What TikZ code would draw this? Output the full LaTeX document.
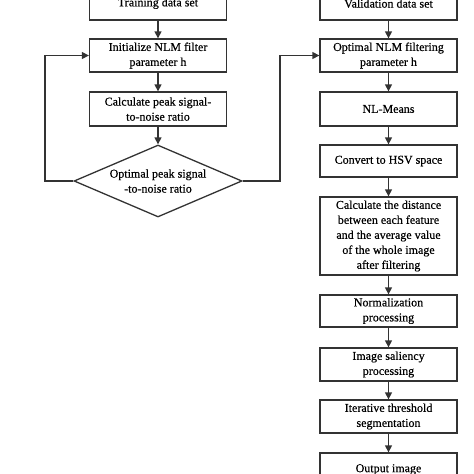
\documentclass[tikz,border=0pt]{standalone}
\usepackage{fontspec}
\setmainfont[FakeBold=0.4]{Liberation Serif}
\usetikzlibrary{shapes.geometric,arrows.meta}
\begin{document}
\begin{tikzpicture}[x=1pt,y=-1pt,
  ln/.style={draw=black!80,line width=1.3pt},
  arr/.style={ln,-{Triangle[length=7pt,width=7pt]}},
  box/.style={ln,rectangle,minimum width=137pt,inner sep=2pt,align=center,
    font=\fontsize{12}{15}\selectfont},
  dec/.style={ln,diamond,aspect=2.33,minimum width=168pt,minimum height=72pt,inner sep=0pt,
    align=center,font=\fontsize{12}{15}\selectfont}]
\useasboundingbox (0,0) rectangle (474,474);
\clip (0,0) rectangle (474,474);
% left column
\node[box,minimum height=33pt] (l1) at (158,3.5) {Training data set};
\node[box,minimum height=33pt] (l2) at (158,55.5) {Initialize NLM filter\\parameter h};
\node[box,minimum height=34pt] (l3) at (158,109) {Calculate peak signal-\\to-noise ratio};
\node[dec] (d) at (158,181) {Optimal peak signal\\-to-noise ratio};
% right column
\node[box,minimum height=33pt] (r1) at (388.5,3.5) {Validation data set};
\node[box,minimum height=33pt] (r2) at (388.5,55.5) {Optimal NLM filtering\\parameter h};
\node[box,minimum height=34pt] (r3) at (388.5,109) {NL-Means};
\node[box,minimum height=32pt] (r4) at (388.5,161) {Convert to HSV space};
\node[box,minimum height=78pt] (r5) at (388.5,236) {Calculate the distance\\between each feature\\and the average value\\of the whole image\\after filtering};
\node[box,minimum height=32pt] (r6) at (388.5,311) {Normalization\\processing};
\node[box,minimum height=33pt] (r7) at (388.5,364.5) {Image saliency\\processing};
\node[box,minimum height=33pt] (r8) at (388.5,416.5) {Iterative threshold\\segmentation};
\node[box,minimum height=33pt] (r9) at (388.5,469.5) {Output image};
\coordinate (lc1) at (45,181);
\coordinate (lc2) at (45,55.5);
\coordinate (rc1) at (280,181);
\coordinate (rc2) at (280,55.5);
% connectors
\draw[arr] (l1) -- (l2);
\draw[arr] (l2) -- (l3);
\draw[arr] (l3) -- (d);
\draw[arr] (d.west) -- (lc1) -- (lc2) -- (l2.west);
\draw[arr] (d.east) -- (rc1) -- (rc2) -- (r2.west);
\draw[arr] (r1) -- (r2);
\draw[arr] (r2) -- (r3);
\draw[arr] (r3) -- (r4);
\draw[arr] (r4) -- (r5);
\draw[arr] (r5) -- (r6);
\draw[arr] (r6) -- (r7);
\draw[arr] (r7) -- (r8);
\draw[arr] (r8) -- (r9);
\end{tikzpicture}
\end{document}
